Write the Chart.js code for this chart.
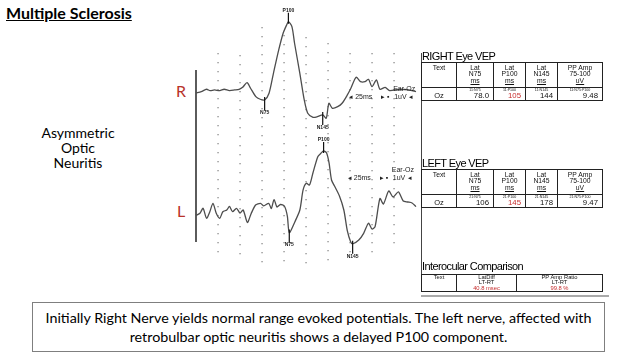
<!DOCTYPE html>
<html>
<head>
<meta charset="utf-8">
<script src="https://cdn.jsdelivr.net/npm/chart.js@4.4.1/dist/chart.umd.min.js"></script>
<style>
  body { margin: 0; width: 638px; height: 359px; position: relative; background: #fff; overflow: hidden; font-family: Lato, sans-serif; color: #000; }
  #title { position: absolute; left: 6px; top: 3px; font-weight: bold; font-size: 16px; text-decoration: underline; }
  #side { position: absolute; left: 28px; top: 125px; width: 100px; text-align: center; font-size: 14px; line-height: 15px; }
  .eye { position: absolute; font-size: 16px; line-height: 16px; color: #b8322a; }
  #vep { position: absolute; left: 186px; top: 0; }
  #panelLine { position: absolute; left: 421px; top: 53px; height: 237px; border-left: 1.3px solid #444; }
  #underLine { position: absolute; left: 421px; top: 295px; width: 188px; height: 2px; background: #aaa; }
  .vhead { position: absolute; left: 422px; font-family: "Liberation Sans", Arial, sans-serif; font-size: 11px; line-height: 11px; letter-spacing: -0.6px; }
  table { position: absolute; left: 421px; border-collapse: collapse; table-layout: fixed; font-family: "Liberation Sans", Arial, sans-serif; color: #111; }
  td { border: 1px solid #222; padding: 0; overflow: hidden; }
  td.h { vertical-align: top; text-align: center; font-size: 6.8px; line-height: 6.4px; padding-top: 2px; height: 22px; }
  td.d { position: relative; height: 12px; }
  .code { position: absolute; left: 0; right: 0; top: 0px; text-align: center; font-size: 3.6px; line-height: 4px; }
  .val { position: absolute; right: 4px; bottom: 0px; font-size: 7.8px; line-height: 8px; }
  .oz { position: absolute; left: 0; right: 0; bottom: 0; text-align: center; font-size: 7.5px; line-height: 8px; }
  .red { color: #c62d2d; }
  td.i { vertical-align: top; text-align: center; font-size: 5.8px; line-height: 5.4px; height: 13px; }
  #caption { position: absolute; left: 32px; top: 302px; width: 573px; height: 50px; box-sizing: border-box; border: 1px solid #7f7f7f; text-align: center; font-size: 14.3px; line-height: 19px; padding-top: 5px; }
</style>
</head>
<body>
<div id="title">Multiple Sclerosis</div>
<div id="side">Asymmetric<br>Optic<br>Neuritis</div>
<div class="eye" style="left:176px;top:83px;">R</div>
<div class="eye" style="left:177px;top:203px;">L</div>
<canvas id="vep" width="244" height="290"></canvas>
<div id="panelLine"></div>
<div id="underLine"></div>
<div class="vhead" style="top:51px;">RIGHT Eye VEP</div>
<table id="tRight" style="top:62px;"></table>
<div class="vhead" style="top:158px;">LEFT Eye VEP</div>
<table id="tLeft" style="top:169px;"></table>
<div class="vhead" style="top:261px;">Interocular Comparison</div>
<table id="tInter" style="top:274px;"></table>
<div id="caption">Initially Right Nerve yields normal range evoked potentials. The left nerve, affected with<br>retrobulbar optic neuritis shows a delayed P100 component.</div>

<script>
// right eye trace: time (ms) and amplitude (uV)
const rTime = [0, 6, 12, 16, 21, 27, 32, 38, 44, 49, 53, 58, 62, 68, 73, 78, 83, 88, 94, 99,
  103, 105, 109, 112, 118, 123, 127, 133, 138, 144, 148, 151, 155, 161, 166, 172, 176, 182, 187, 192,
  196, 200, 205, 209, 215, 220, 231, 242, 250];
const rAmp = [0, 0.15, 0.43, 0.27, 0.35, 0.27, 0.43, 0.27, 0.35, 0.43, 0.66, 1.2, 0.55, -0.43, -0.73, -0.81, -0.03, 2.29, 5.0, 6.94,
  7.91, 8.29, 7.71, 5.78, 2.29, -0.81, -2.36, -2.83, -2.76, -2.56, -2.94, -1.2, -1.78, -1.59, -1.2, -0.23, 0.55, 1.83, 1.31, 1.31,
  1.59, 0.73, 1.51, 0.43, 0.66, 0.27, 0.43, 0.35, 0.15];

// left eye trace
const lTime = [0, 4.5, 8, 12, 15.6, 19.3, 23, 27, 30.5, 35, 38, 41.6, 46, 50, 53.6, 58.4, 62.5, 67.7, 73.3, 77,
  82.6, 85.6, 88.7, 92, 96, 100.4, 103.8, 106, 112.4, 118, 121.7, 125.3, 129, 132.8, 138.4, 142, 145, 148.4, 151.2, 154,
  157.4, 163, 168, 172, 175.6, 178, 185, 190.5, 196, 200, 203.5, 209, 213, 219, 224, 230, 235.5, 240.5, 245.5, 250];
const lAmp = [-0.4, -0.15, 0.43, -0.73, 0, 1.01, -0.15, -0.73, 0.03, 0.23, 0.64, 0.03, 0.43, -0.12, 0.23, -1.22, -0.23, 0.81, 1.01, 0.7,
  1.01, 0.41, 1.45, 0.58, 0.87, 0.7, -0.47, -2.4, -1.13, 0.23, 2.56, 3.34, 3.14, 4.5, 6.43, 6.83, 7.1, 6.86, 5.7, 3.72,
  3.02, 1.86, 0.23, -2.21, -3.43, -3.7, -3.26, -2.48, -1.31, -1.98, -1.71, 1.57, 0.93, 2.44, 1.74, 2.33, 1.28, 1.16, 1.05, 0.62];

// table contents
const peakNames = ['N75', 'P100', 'N145'];
const colHeads = [['Lat', 'N75', 'ms'], ['Lat', 'P100', 'ms'], ['Lat', 'N145', 'ms'], ['PP Amp', '75-100', 'uV']];
const rightCodes = ['11:N75', '11:P100', '11:N145', '11:N75:P100'];
const leftCodes = ['21:N75', '21:P100', '21:N145', '21:N75:P100'];
const rightCells = ['78.0', '105', '144', '9.48'];
const leftCells = ['106', '145', '178', '9.47'];
const interHeads = [['LatDiff', 'LT-RT'], ['PP Amp Ratio', 'LT-RT']];
const interCells = ['40.8 msec', '99.8 %'];

const rLatency = rightCells.slice(0, 3).map(Number);
const lLatency = leftCells.slice(0, 3).map(Number);

function buildEyeTable(id, codes, cells) {
  const widths = [35, 37, 32, 32, 45];
  let html = '<colgroup>' + widths.map(w => `<col style="width:${w}px">`).join('') + '</colgroup>';
  html += '<tr><td class="h">Text</td>' + colHeads.map(h => `<td class="h">${h[0]}<br>${h[1]}<br><u>${h[2]}</u></td>`).join('') + '</tr>';
  html += '<tr><td class="d"><div class="oz">Oz</div></td>' + cells.map((c, i) =>
    `<td class="d"><div class="code">${codes[i]}</div><div class="val${i === 1 ? ' red' : ''}">${c}</div></td>`).join('') + '</tr>';
  const t = document.getElementById(id);
  t.style.width = widths.reduce((a, b) => a + b) + 'px';
  t.innerHTML = html;
}
buildEyeTable('tRight', rightCodes, rightCells);
buildEyeTable('tLeft', leftCodes, leftCells);

(function () {
  const widths = [35, 60, 86];
  let html = '<colgroup>' + widths.map(w => `<col style="width:${w}px">`).join('') + '</colgroup><tr><td class="i">Text</td>';
  html += interHeads.map((h, i) => `<td class="i">${h[0]}<br>${h[1]}<br><span class="red">${interCells[i]}</span></td>`).join('') + '</tr>';
  const t = document.getElementById('tInter');
  t.style.width = '181px';
  t.innerHTML = html;
})();

function ampAt(data, t) {
  for (let i = 1; i < data.length; i++) {
    if (data[i].x >= t) {
      const a = data[i - 1], b = data[i];
      return a.y + (b.y - a.y) * (t - a.x) / (b.x - a.x);
    }
  }
  return data[data.length - 1].y;
}

// dotted columns, left axis bar, peak markers and calibration notes
const vepDecor = {
  id: 'vepDecor',
  beforeDatasetsDraw(chart) {
    const { ctx, scales: { x } } = chart;
    const tops = [53, 55, 27, 35, 37, 43, 53, 53, 53];
    const bottoms = [253, 253, 263, 263, 267, 267, 255, 253, 243];
    ctx.save();
    ctx.fillStyle = '#8c8c8c';
    for (let i = 1; i <= 9; i++) {
      const px = Math.round(x.getPixelForValue(i * 25));
      for (let y = tops[i - 1]; y <= bottoms[i - 1]; y += 9) ctx.fillRect(px - 0.6, y, 1.3, 1.3);
    }
    const x0 = x.getPixelForValue(0);
    ctx.strokeStyle = '#333';
    ctx.lineWidth = 1.6;
    ctx.beginPath();
    ctx.moveTo(x0, 70);
    ctx.lineTo(x0, 242);
    ctx.stroke();
    ctx.restore();
  },
  afterDatasetsDraw(chart) {
    const { ctx, scales } = chart;
    const x = scales.x;
    ctx.save();
    ctx.strokeStyle = '#111';
    ctx.fillStyle = '#222';
    ctx.lineWidth = 1.2;
    ctx.textAlign = 'center';
    ctx.font = 'bold 5px "Liberation Sans", Arial, sans-serif';
    const traces = [[chart.data.datasets[0], rLatency, scales.yR], [chart.data.datasets[1], lLatency, scales.yL]];
    traces.forEach(([ds, lats, ys]) => {
      lats.forEach((t, i) => {
        const px = x.getPixelForValue(t);
        const py = ys.getPixelForValue(ampAt(ds.data, t));
        const pos = peakNames[i][0] === 'P';
        ctx.beginPath();
        if (pos) { ctx.moveTo(px, py - 9); ctx.lineTo(px, py + 2); }
        else { ctx.moveTo(px, py - 3); ctx.lineTo(px, py + 10); }
        ctx.stroke();
        ctx.textBaseline = pos ? 'bottom' : 'top';
        ctx.fillText(peakNames[i], px, pos ? py - 9 : py + 10);
      });
    });
    // calibration notes
    ctx.font = '7px "Liberation Sans", Arial, sans-serif';
    ctx.textAlign = 'left';
    ctx.textBaseline = 'middle';
    [[176.3, -0.47, scales.yR], [174.7, 3.95, scales.yL]].forEach(([t, v, ys]) => {
      const ax = x.getPixelForValue(t), ay = ys.getPixelForValue(v);
      ctx.fillText('\u25C2', ax - 2, ay);
      ctx.fillText('25ms', ax + 4, ay);
      ctx.fillText('\u25B8 \u25AA', ax + 30, ay);
      ctx.fillText('1uV', ax + 43, ay);
      ctx.fillText('\u25C2', ax + 58, ay);
      ctx.fillText('Ear-Oz', ax + 42, ay - 8);
    });
    ctx.restore();
  }
};

const lineStyle = { borderColor: '#4d4d4d', borderWidth: 1.3, pointRadius: 0, tension: 0.25, clip: false, fill: false };

new Chart(document.getElementById('vep'), {
  type: 'line',
  data: {
    datasets: [
      { label: 'R', data: rTime.map((t, i) => ({ x: t, y: rAmp[i] })), yAxisID: 'yR', ...lineStyle },
      { label: 'L', data: lTime.map((t, i) => ({ x: t, y: lAmp[i] })), yAxisID: 'yL', ...lineStyle }
    ]
  },
  options: {
    responsive: false,
    animation: false,
    layout: { padding: { left: 10, right: 14, top: 0, bottom: 10 } },
    plugins: { legend: { display: false }, tooltip: { enabled: false } },
    scales: {
      x: { type: 'linear', min: 0, max: 250, display: false },
      yR: { min: -21.75, max: 10.81, display: false },
      yL: { min: -7.91, max: 24.65, display: false }
    }
  },
  plugins: [vepDecor]
});
</script>
</body>
</html>
